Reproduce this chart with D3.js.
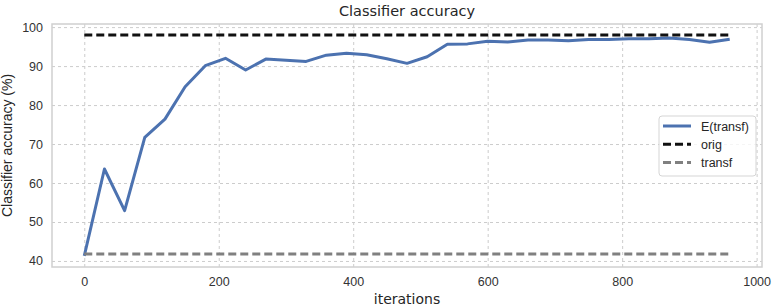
<!DOCTYPE html>
<html>
<head>
<meta charset="utf-8">
<script src="https://cdn.jsdelivr.net/npm/d3@7"></script>
<style>
  body { margin: 0; background: #fff; }
  svg { display: block; }
</style>
</head>
<body>
<div id="chart-area"></div>
<script>
// data
const iterations = [0, 30, 60, 90, 120, 150, 180, 210, 240, 270, 300, 330, 360, 390, 420, 450,
	480, 510, 540, 570, 600, 630, 660, 690, 720, 750, 780, 810, 840, 870, 900, 930, 960];
const accTransf = [41.3, 63.6, 52.9, 71.7, 76.4, 84.7, 90.1, 92.0, 89.0, 91.8, 91.5, 91.2, 92.8,
	93.3, 92.9, 91.9, 90.7, 92.4, 95.6, 95.7, 96.4, 96.2, 96.7, 96.7, 96.5, 96.8, 96.8, 97.0,
	97.0, 97.2, 96.8, 96.1, 96.9];
const origAcc = 98.0;
const transfAcc = 41.8;
const xTicks = [0, 200, 400, 600, 800, 1000];
const yTicks = [40, 50, 60, 70, 80, 90, 100];
const legendLabels = ["E(transf)", "orig", "transf"];

const margin = { left: 52, top: 24, right: 10, bottom: 40 }
const width = 772 - margin.left - margin.right;
const height = 307 - margin.top - margin.bottom;

const svg = d3.select("#chart-area").append("svg")
	.attr("width", 772)
	.attr("height", 307)

const g = svg.append("g")
	.attr("transform", `translate(${margin.left},${margin.top})`)

const x = d3.scaleLinear()
	.domain([-48, 1008])
	.range([0, width])

const y = d3.scaleLinear()
	.domain([38.45, 100.8])
	.range([height, 0])

// grid
const gridX = d3.axisBottom(x).tickValues(xTicks).tickSize(-height).tickFormat("")
g.append("g")
	.attr("transform", `translate(0,${height})`)
	.call(gridX)
	.call(s => s.select(".domain").remove())
	.selectAll("line")
	.attr("stroke", "#cccccc")
	.attr("stroke-dasharray", "3,3")

const gridY = d3.axisLeft(y).tickValues(yTicks).tickSize(-width).tickFormat("")
g.append("g")
	.call(gridY)
	.call(s => s.select(".domain").remove())
	.selectAll("line")
	.attr("stroke", "#cccccc")
	.attr("stroke-dasharray", "3,3")

// frame
g.append("rect")
	.attr("width", width)
	.attr("height", height)
	.attr("fill", "none")
	.attr("stroke", "#d0d0d0")
	.attr("stroke-width", 1.5)

// tick labels
const axisB = d3.axisBottom(x).tickValues(xTicks).tickFormat(d3.format("d")).tickSize(0).tickPadding(10)
g.append("g")
	.attr("transform", `translate(0,${height})`)
	.call(axisB)
	.call(s => s.select(".domain").remove())
	.selectAll("text")
	.attr("font-family", "Liberation Sans, Arial, sans-serif")
	.attr("font-size", "12.5px")
	.attr("fill", "#333")

const axisL = d3.axisLeft(y).tickValues(yTicks).tickFormat(d3.format("d")).tickSize(0).tickPadding(9)
g.append("g")
	.call(axisL)
	.call(s => s.select(".domain").remove())
	.selectAll("text")
	.attr("font-family", "Liberation Sans, Arial, sans-serif")
	.attr("font-size", "12.5px")
	.attr("fill", "#333")

// lines
const line = d3.line()
	.x((d, i) => x(iterations[i]))
	.y(d => y(d))

g.append("path")
	.datum(accTransf)
	.attr("fill", "none")
	.attr("stroke", "#4c72b0")
	.attr("stroke-width", 3)
	.attr("stroke-linejoin", "round")
	.attr("d", line)

const xEnds = d3.extent(iterations)
g.append("line")
	.attr("x1", x(xEnds[0])).attr("x2", x(xEnds[1]))
	.attr("y1", y(origAcc)).attr("y2", y(origAcc))
	.attr("stroke", "#111")
	.attr("stroke-width", 3)
	.attr("stroke-dasharray", "8,4")

g.append("line")
	.attr("x1", x(xEnds[0])).attr("x2", x(xEnds[1]))
	.attr("y1", y(transfAcc)).attr("y2", y(transfAcc))
	.attr("stroke", "#808080")
	.attr("stroke-width", 3)
	.attr("stroke-dasharray", "8,4")

// titles
svg.append("text")
	.attr("x", margin.left + width / 2)
	.attr("y", 16)
	.attr("text-anchor", "middle")
	.attr("font-family", "DejaVu Sans, sans-serif")
	.attr("font-size", "14.5px")
	.attr("fill", "#262626")
	.text("Classifier accuracy")

svg.append("text")
	.attr("x", margin.left + width / 2)
	.attr("y", 304)
	.attr("text-anchor", "middle")
	.attr("font-family", "DejaVu Sans, sans-serif")
	.attr("font-size", "14px")
	.attr("fill", "#262626")
	.text("iterations")

svg.append("text")
	.attr("transform", `translate(12,${margin.top + height / 2}) rotate(-90)`)
	.attr("text-anchor", "middle")
	.attr("font-family", "Liberation Sans, Arial, sans-serif")
	.attr("font-size", "14px")
	.attr("fill", "#262626")
	.text("Classifier accuracy (%)")

// legend
const legend = svg.append("g")
	.attr("transform", "translate(659,116)")

legend.append("rect")
	.attr("width", 97)
	.attr("height", 60)
	.attr("rx", 3)
	.attr("fill", "#fff")
	.attr("fill-opacity", 0.8)
	.attr("stroke", "#d5d5d5")

const legendStyles = [
	{ color: "#4c72b0", dash: null },
	{ color: "#111", dash: "8,4" },
	{ color: "#808080", dash: "8,4" }
]

legendLabels.forEach((label, i) => {
	const yy = 10 + i * 18.3
	legend.append("line")
		.attr("x1", 4).attr("x2", 32)
		.attr("y1", yy).attr("y2", yy)
		.attr("stroke", legendStyles[i].color)
		.attr("stroke-width", 3)
		.attr("stroke-dasharray", legendStyles[i].dash)
	legend.append("text")
		.attr("x", 42)
		.attr("y", yy + 4.5)
		.attr("font-family", "Liberation Sans, Arial, sans-serif")
		.attr("font-size", "12.5px")
		.attr("fill", "#262626")
		.text(label)
})
</script>
</body>
</html>
